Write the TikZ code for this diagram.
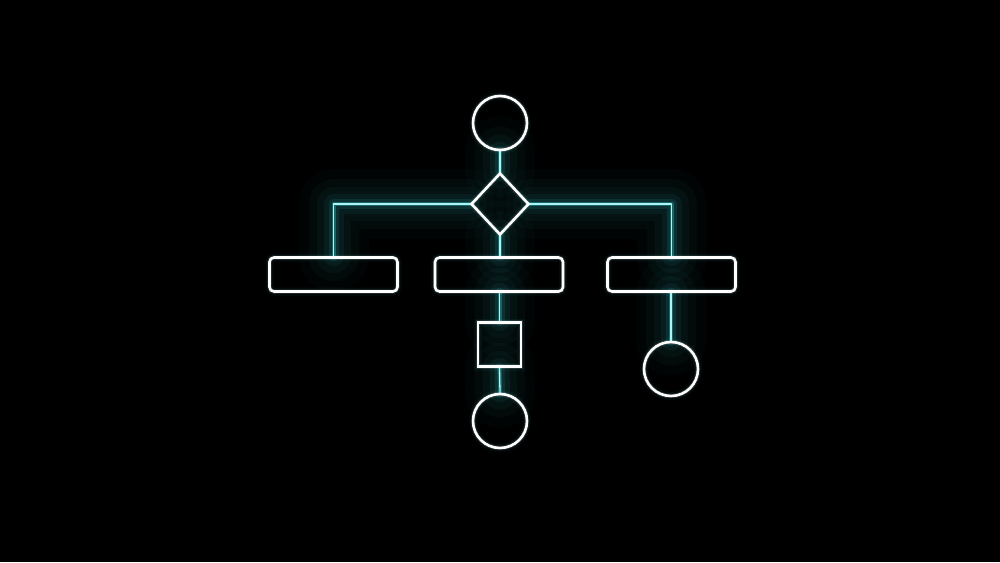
\documentclass[tikz,border=0pt]{standalone}
\usetikzlibrary{shapes.geometric}
\pgfdeclarelayer{bg}
\pgfdeclarelayer{glow}
\pgfsetlayers{bg,glow,main}
\definecolor{neon}{RGB}{60,215,225}
\definecolor{neoncore}{RGB}{170,245,245}
\tikzset{
  shapebox/.style={draw=white, line width=2.6pt, inner sep=0pt,
    preaction={draw=neon, line width=8pt, opacity=0.05},
    preaction={draw=white, line width=4.5pt, opacity=0.12}},
  roundnode/.style={shapebox, circle, minimum size=54pt},
  decision/.style={shapebox, diamond, minimum width=58pt, minimum height=62pt},
  barbox/.style={shapebox, rectangle, rounded corners=4.5pt, minimum width=128pt, minimum height=34pt},
  squarebox/.style={shapebox, rectangle, minimum width=43pt, minimum height=44pt},
  link/.style={draw=neoncore, line width=1.3pt, line cap=round, line join=round,
    preaction={draw=neon, line width=70pt, opacity=0.02, line cap=round, line join=round},
    preaction={draw=neon, line width=50pt, opacity=0.03, line cap=round, line join=round},
    preaction={draw=neon, line width=34pt, opacity=0.04, line cap=round, line join=round},
    preaction={draw=neon, line width=20pt, opacity=0.06, line cap=round, line join=round},
    preaction={draw=neon, line width=10pt, opacity=0.11, line cap=round, line join=round},
    preaction={draw=neon, line width=4pt, opacity=0.3, line cap=round, line join=round}},
}
\begin{document}
\begin{tikzpicture}[x=1pt, y=-1pt]
\begin{pgfonlayer}{bg}
\fill[black] (0,0) rectangle (1000,562);
\end{pgfonlayer}
\useasboundingbox (0,0) rectangle (1000,562);
\node[roundnode] (top) at (500,123) {};
\node[decision] (dia) at (500,204) {};
\node[barbox] (lbox) at (333.5,274.5) {};
\node[barbox] (mbox) at (499,274.5) {};
\node[barbox] (rbox) at (671.5,274.5) {};
\node[squarebox] (sq) at (499.5,344.5) {};
\node[roundnode] (bot) at (500,421) {};
\node[roundnode] (rc) at (671,369) {};
\begin{pgfonlayer}{glow}
\path[link] (top.south) -- (dia.north);
\path[link] (dia.west) -| (lbox.north);
\path[link] (dia.east) -| (rbox.north);
\path[link] (dia.south) -- (dia.south |- mbox.north);
\path[link] (mbox.south -| sq.north) -- (sq.north);
\path[link] (sq.south) -- (bot.north);
\path[link] (rbox.south -| rc.north) -- (rc.north);
\end{pgfonlayer}
\end{tikzpicture}
\end{document}
